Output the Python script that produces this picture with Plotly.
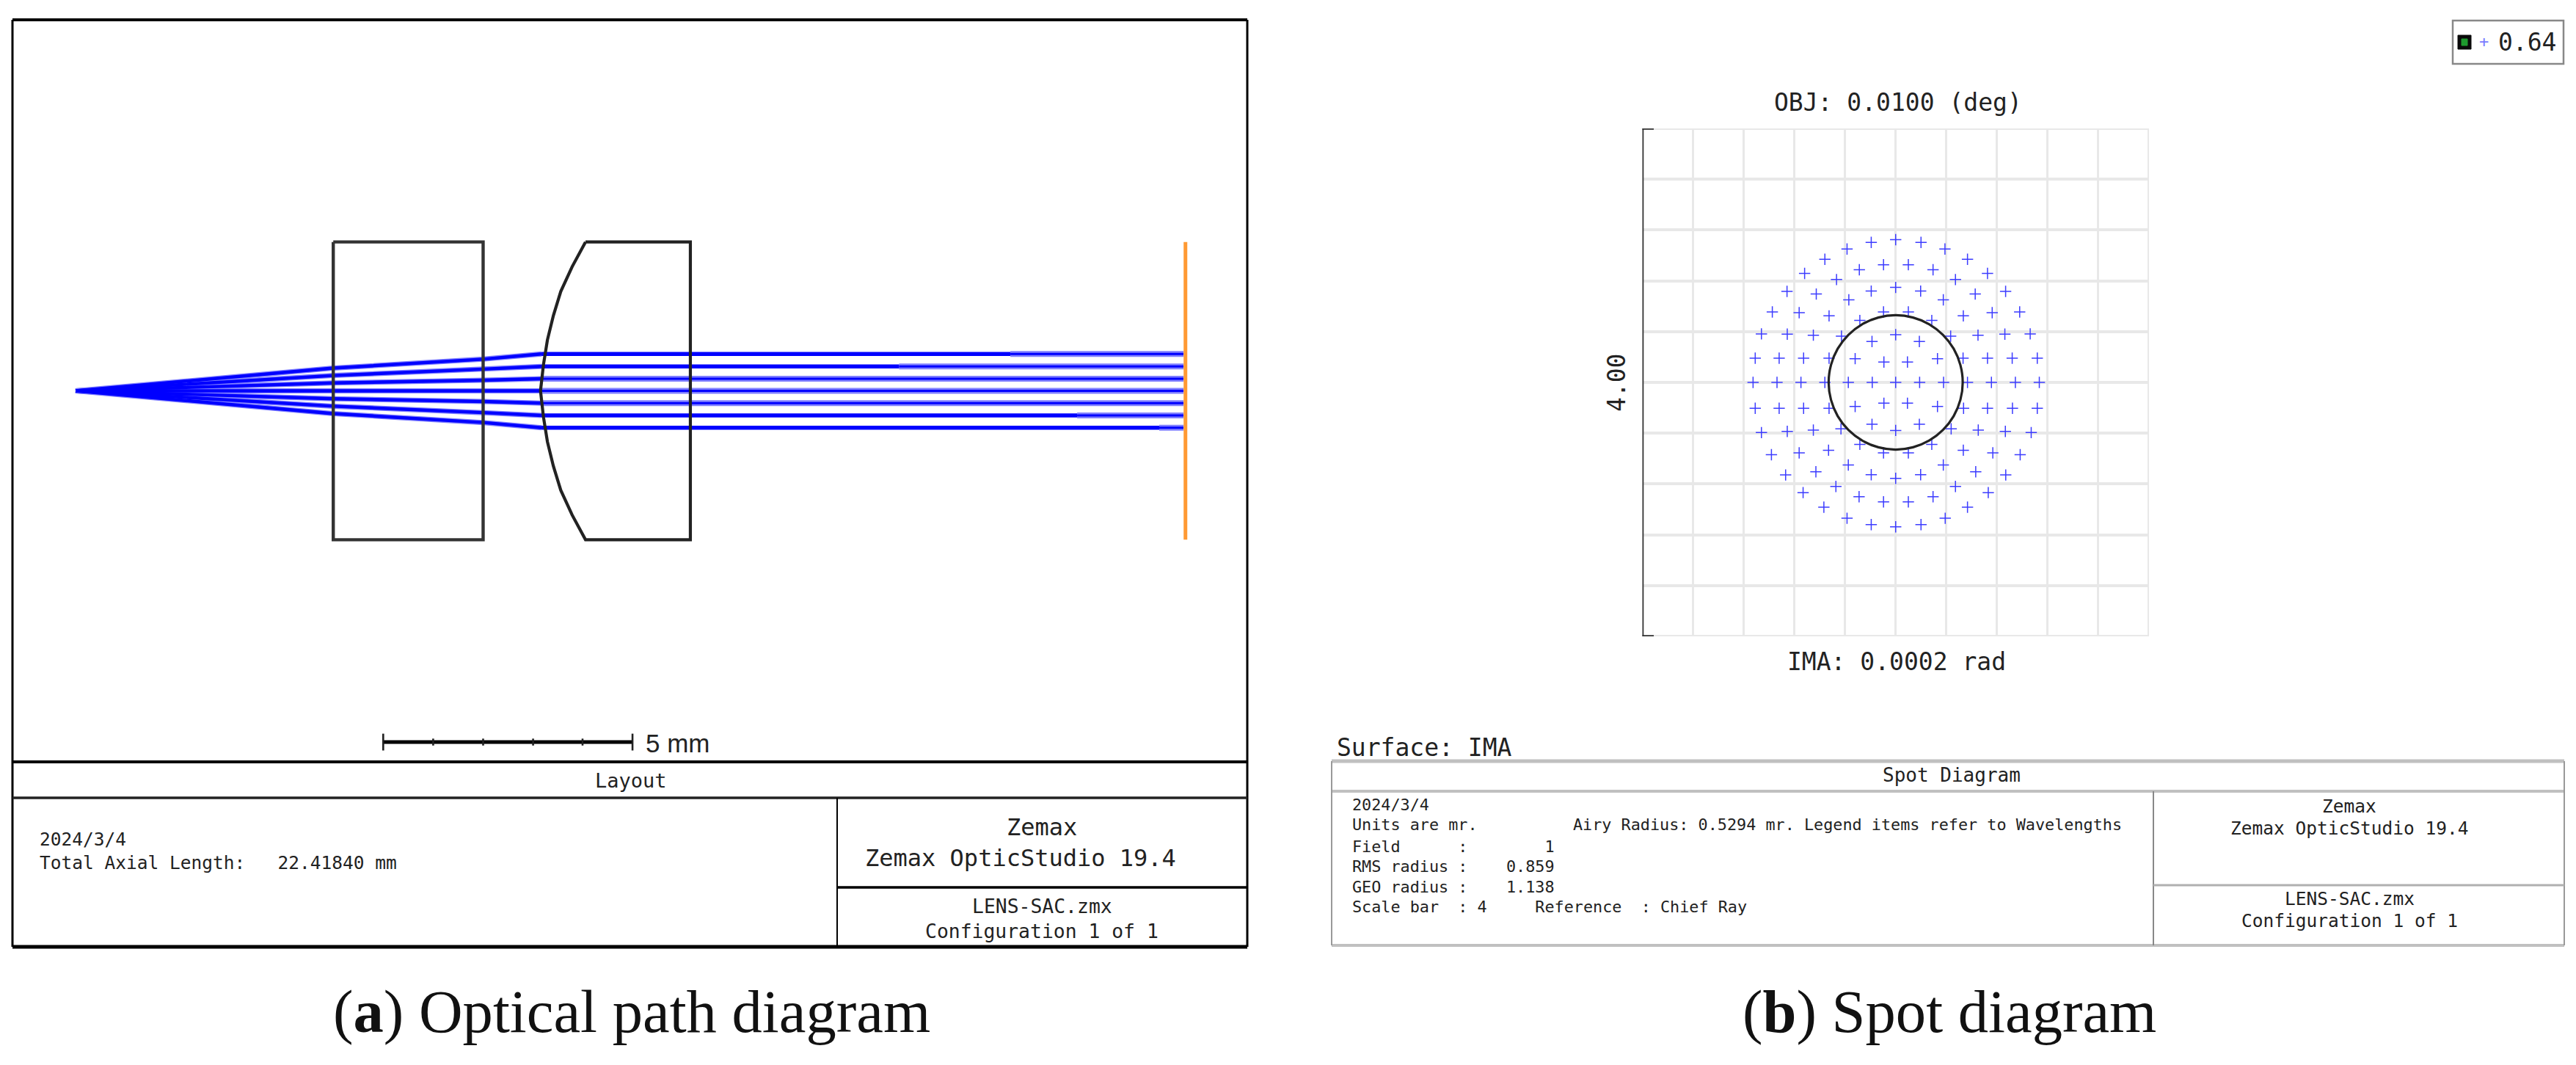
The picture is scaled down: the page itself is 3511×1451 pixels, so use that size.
#!/usr/bin/env python3
import plotly.graph_objects as go

W = 3511
H = 1451
MONO = "DejaVu Sans Mono"
# default page body margin pushes the plot by this many pixels
PAGE_INSET = 8

# --- layout panel, all in mm from the source point ---
LENS1_X = [5.21, 8.24, 8.24, 5.21, 5.21]
LENS1_Y = [3.01, 3.01, -3.01, -3.01, 3.01]
LENS2_X = [10.31, 10.04, 9.81, 9.66, 9.54, 9.46, 9.40, 9.46, 9.54, 9.66, 9.81, 10.04, 10.31, 12.43, 12.43, 10.31]
LENS2_Y = [3.01, 2.51, 2.01, 1.52, 1.03, 0.53, 0.0, -0.53, -1.03, -1.52, -2.01, -2.51, -3.01, -3.01, 3.01, 3.01]
IMAGE_X = [22.44, 22.44]
IMAGE_Y = [3.01, -3.01]

RAY_SURF_X = [0.0, 5.21, 8.24, 9.42, 22.40]
RAY_AT_L1F = [0.46, 0.31, 0.16, 0.0, -0.16, -0.31, -0.46]
RAY_AT_L1R = [0.64, 0.44, 0.215, 0.0, -0.215, -0.44, -0.64]
RAY_AT_L2F = [0.745, 0.493, 0.245, 0.0, -0.249, -0.497, -0.745]
RAY_SOFT_FROM = [18.90, 16.65, 9.42, 9.42, 9.42, 20.25, 21.91]

BAR_TICKS = [6.22, 7.23, 8.24, 9.25, 10.25, 11.26]

# --- spot panel, all in mr ---
SPOT_X = [
    0.0,
    -0.185, 0.189, -0.093, 0.093, -0.093, 0.093,
    -0.374, 0.378, -0.320, 0.330, -0.187, 0.187, 0.0, -0.320, 0.330, -0.187, 0.187, 0.0,
    -0.559, 0.567, -0.526, 0.532, -0.428, 0.434, -0.283, 0.285, -0.096, 0.100,
    -0.526, 0.536, -0.432, 0.438, -0.283, 0.285, -0.096, 0.100,
    -0.748, 0.756, -0.727, 0.725, -0.650, 0.650, -0.526, 0.534, -0.370, 0.376, -0.193, 0.197, 0.0,
    -0.727, 0.725, -0.650, 0.652, -0.530, 0.534, -0.374, 0.376, -0.193, 0.197, 0.0,
    -0.937, 0.945, -0.920, 0.920, -0.856, 0.862, -0.762, 0.762, -0.627, 0.628, -0.467, 0.472, -0.287, 0.295, -0.096, 0.100,
    -0.920, 0.922, -0.856, 0.866, -0.762, 0.767, -0.630, 0.632, -0.472, 0.472, -0.289, 0.295, -0.096, 0.100,
    -1.126, 1.134, -1.109, 1.118, -1.060, 1.062, -0.974, 0.979, -0.858, 0.868, -0.719, 0.725, -0.559, 0.567, -0.384, 0.389, -0.193, 0.200, 0.0,
    -1.109, 1.118, -1.060, 1.070, -0.981, 0.983, -0.869, 0.869, -0.731, 0.731, -0.567, 0.567, -0.384, 0.391, -0.193, 0.200, 0.0,
]
SPOT_Y = [
    0.0,
    0.0, 0.0, 0.160, 0.160, -0.164, -0.164,
    0.0, 0.0, 0.187, 0.187, 0.322, 0.322, 0.376, -0.189, -0.189, -0.330, -0.330, -0.378,
    0.0, 0.0, 0.191, 0.191, 0.364, 0.364, 0.488, 0.488, 0.555, 0.555,
    -0.204, -0.204, -0.366, -0.366, -0.488, -0.488, -0.555, -0.555,
    0.0, 0.0, 0.191, 0.191, 0.372, 0.372, 0.524, 0.524, 0.650, 0.650, 0.719, 0.719, 0.748,
    -0.204, -0.204, -0.376, -0.376, -0.534, -0.534, -0.650, -0.650, -0.727, -0.727, -0.756,
    0.0, 0.0, 0.191, 0.191, 0.380, 0.380, 0.549, 0.549, 0.696, 0.696, 0.810, 0.810, 0.887, 0.887, 0.927, 0.927,
    -0.204, -0.204, -0.386, -0.386, -0.555, -0.555, -0.704, -0.704, -0.819, -0.819, -0.900, -0.900, -0.941, -0.941,
    0.0, 0.0, 0.191, 0.191, 0.382, 0.382, 0.555, 0.555, 0.717, 0.717, 0.858, 0.858, 0.970, 0.970, 1.051, 1.051, 1.103, 1.103, 1.124,
    -0.204, -0.204, -0.395, -0.395, -0.569, -0.569, -0.729, -0.729, -0.868, -0.868, -0.983, -0.983, -1.070, -1.070, -1.120, -1.120, -1.137,
]
AIRY_X = [0.0, 0.137, 0.265, 0.374, 0.458, 0.511, 0.5294, 0.511, 0.458, 0.374, 0.265, 0.137, 0.0,
          -0.137, -0.265, -0.374, -0.458, -0.511, -0.5294, -0.511, -0.458, -0.374, -0.265, -0.137, 0.0]
AIRY_Y = [0.5294, 0.511, 0.458, 0.374, 0.265, 0.137, 0.0, -0.137, -0.265, -0.374, -0.458, -0.511, -0.5294,
          -0.511, -0.458, -0.374, -0.265, -0.137, 0.0, 0.137, 0.265, 0.374, 0.458, 0.511, 0.5294]
SCALE_BAR = [-2.0, 2.0]


def px(x):
    return (x - PAGE_INSET) / W


def py(y):
    return 1.0 - (y - PAGE_INSET) / H


def add_rule(fig, x0, y0, x1, y1, color="#000000", width=3.0):
    fig.add_shape(
        type="line", xref="paper", yref="paper",
        x0=px(x0), y0=py(y0), x1=px(x1), y1=py(y1),
        line={"color": color, "width": width},
    )


def add_box(fig, x0, y0, x1, y1, fill, line_color, line_width):
    fig.add_shape(
        type="rect", xref="paper", yref="paper",
        x0=px(x0), x1=px(x1), y0=py(y1), y1=py(y0),
        line={"color": line_color, "width": line_width}, fillcolor=fill,
    )


def add_label(fig, x, y, text, size, anchor="left", font=MONO, color="#222222", angle=0):
    fig.add_annotation(
        x=px(x), y=py(y), xref="paper", yref="paper",
        text=text, showarrow=False, textangle=angle,
        xanchor=anchor, yanchor="middle",
        font={"family": font, "size": size, "color": color},
    )


def add_line(fig, x, y, color, width, axes="xy", cliponaxis=True):
    fig.add_trace(
        go.Scatter(
            x=x, y=y, xaxis="x" if axes == "xy" else "x2", yaxis="y" if axes == "xy" else "y2",
            mode="lines", line={"color": color, "width": width},
            hoverinfo="skip", showlegend=False, cliponaxis=cliponaxis,
        )
    )


fig = go.Figure()

# rays: all the lighter halos first, so no halo lands on a solid core
for i in range(len(RAY_AT_L2F)):
    ys = [0.0, RAY_AT_L1F[i], RAY_AT_L1R[i], RAY_AT_L2F[i]]
    add_line(fig, RAY_SURF_X[:4], ys, "#8080FF", 7.0)
    add_line(fig, [RAY_SOFT_FROM[i], RAY_SURF_X[4]], [RAY_AT_L2F[i], RAY_AT_L2F[i]], "#8080FF", 8.0)
for i in range(len(RAY_AT_L2F)):
    ys = [0.0, RAY_AT_L1F[i], RAY_AT_L1R[i], RAY_AT_L2F[i]]
    soft = RAY_SOFT_FROM[i]
    level = RAY_AT_L2F[i]
    add_line(fig, RAY_SURF_X[:4], ys, "#0000FF", 4.4)
    add_line(fig, [soft, RAY_SURF_X[4]], [level, level], "#0000FF", 3.0)
    if soft > RAY_SURF_X[3]:
        add_line(fig, [RAY_SURF_X[3], soft], [level, level], "#0000FF", 5.5)

add_line(fig, LENS1_X, LENS1_Y, "#333333", 4.4)
add_line(fig, LENS2_X, LENS2_Y, "#222222", 4.2)
add_line(fig, IMAGE_X, IMAGE_Y, "#FF9A33", 5.0)

# 5 mm scale bar
add_line(fig, [BAR_TICKS[0], BAR_TICKS[-1]], [-7.1, -7.1], "#000000", 5.0)
for i, t in enumerate(BAR_TICKS):
    half = 0.17 if i in (0, len(BAR_TICKS) - 1) else 0.07
    add_line(fig, [t, t], [-7.1 - half, -7.1 + half], "#222222", 2.6)

# grid lines at the box edges, plotly leaves them out
add_line(fig, [-2, 2], [2, 2], "#E8E8E8", 4.0, axes="x2y2", cliponaxis=False)
add_line(fig, [-2, 2], [-2, -2], "#E8E8E8", 4.0, axes="x2y2", cliponaxis=False)
add_line(fig, [2, 2], [-2, 2], "#E8E8E8", 4.0, axes="x2y2", cliponaxis=False)

# spot diagram
fig.add_trace(
    go.Scatter(
        x=SPOT_X, y=SPOT_Y, xaxis="x2", yaxis="y2", mode="markers",
        marker={"symbol": "cross-thin", "size": 11, "line": {"color": "#3C3CFF", "width": 1.5}},
        hoverinfo="skip", showlegend=False,
    )
)
add_line(fig, AIRY_X, AIRY_Y, "#222222", 3.2, axes="x2y2")
fig.data[-1].line.shape = "spline"
add_line(fig, [-2.0, -2.0], SCALE_BAR, "#333333", 3.6, axes="x2y2", cliponaxis=False)
for end in SCALE_BAR:
    add_line(fig, [-2.09, -1.91], [end, end], "#333333", 3.6, axes="x2y2", cliponaxis=False)

fig.update_layout(
    width=W,
    height=H,
    margin={"l": 0, "r": 0, "t": 0, "b": 0},
    paper_bgcolor="#FFFFFF",
    plot_bgcolor="#FFFFFF",
    showlegend=False,
    xaxis={"domain": [px(17), px(1700)], "range": [-1.276, 23.69], "visible": False},
    yaxis={"domain": [py(1038), py(27)], "range": [-7.5, 7.5], "visible": False},
    xaxis2={
        "domain": [px(2238.5), px(2929)], "range": [-2, 2], "anchor": "y2",
        "tick0": -2, "dtick": 0.4, "showgrid": True, "gridcolor": "#E8E8E8", "gridwidth": 3.4,
        "zeroline": False, "showticklabels": False, "ticks": "",
    },
    yaxis2={
        "domain": [py(867), py(175)], "range": [-2, 2], "anchor": "x2",
        "tick0": -2, "dtick": 0.4, "showgrid": True, "gridcolor": "#E8E8E8", "gridwidth": 4.0,
        "zeroline": False, "showticklabels": False, "ticks": "",
    },
)

# left title block
add_rule(fig, 17, 27, 1700, 27, width=4)
add_rule(fig, 17, 27, 17, 1290, width=3)
add_rule(fig, 1700, 27, 1700, 1290, width=3)
add_rule(fig, 17, 1038, 1700, 1038, width=4)
add_rule(fig, 17, 1087, 1700, 1087, color="#222222", width=3.5)
add_rule(fig, 17, 1290, 1700, 1290, width=5)
add_rule(fig, 1141, 1087, 1141, 1290, width=2)
add_rule(fig, 1141, 1209, 1700, 1209, width=3.5)

add_label(fig, 924, 1012, "5 mm", 35, font="Liberation Sans", anchor="center")
add_label(fig, 860, 1063, "Layout", 27, anchor="center")
add_label(fig, 52, 1143, "2024/3/4", 24.5)
add_label(fig, 52, 1175, "Total Axial Length:   22.41840 mm", 24.5)
add_label(fig, 1420, 1127, "Zemax", 32, anchor="center")
add_label(fig, 1391, 1169, "Zemax OpticStudio 19.4", 32, anchor="center")
add_label(fig, 1420, 1234, "LENS-SAC.zmx", 26.4, anchor="center")
add_label(fig, 1420, 1268, "Configuration 1 of 1", 26.4, anchor="center")

# right title block
add_rule(fig, 1815, 1037, 3495, 1037, color="#C0C0C0", width=5)
add_rule(fig, 1815, 1078, 3495, 1078, color="#C0C0C0", width=4)
add_rule(fig, 1815, 1288, 3495, 1288, color="#C0C0C0", width=4)
add_rule(fig, 1815, 1037, 1815, 1288, color="#999999", width=2)
add_rule(fig, 3495, 1037, 3495, 1288, color="#999999", width=2)
add_rule(fig, 2935, 1078, 2935, 1288, color="#888888", width=2)
add_rule(fig, 2935, 1206, 3495, 1206, color="#B0B0B0", width=3)

add_label(fig, 1820, 1018, "Surface: IMA", 33)
add_label(fig, 2660, 1056, "Spot Diagram", 26, anchor="center")
add_label(fig, 1841, 1096, "2024/3/4", 21.8)
add_label(fig, 1841, 1123, "Units are mr.", 21.8)
add_label(fig, 2142, 1123, "Airy Radius: 0.5294 mr. Legend items refer to Wavelengths", 21.8)
add_label(fig, 1841, 1153, "Field      :        1", 21.8)
add_label(fig, 1841, 1180, "RMS radius :    0.859", 21.8)
add_label(fig, 1841, 1208, "GEO radius :    1.138", 21.8)
add_label(fig, 1841, 1235, "Scale bar  : 4     Reference  : Chief Ray", 21.8)
add_label(fig, 3202, 1098, "Zemax", 24.5, anchor="center")
add_label(fig, 3202, 1128, "Zemax OpticStudio 19.4", 24.5, anchor="center")
add_label(fig, 3202, 1224, "LENS-SAC.zmx", 24.5, anchor="center")
add_label(fig, 3202, 1254, "Configuration 1 of 1", 24.5, anchor="center")

# spot panel labels
add_label(fig, 2587, 140, "OBJ: 0.0100 (deg)", 33, anchor="center")
add_label(fig, 2585, 902, "IMA: 0.0002 rad", 33, anchor="center")
add_label(fig, 2203, 522, "4.00", 33, anchor="center", angle=-90)

# wavelength legend box
add_box(fig, 3343, 28, 3494, 87, "#FFFFFF", "#888888", 2.5)
add_box(fig, 3350, 48, 3368, 67, "#0A0A0A", "#0A0A0A", 1)
add_box(fig, 3355, 53, 3363, 62, "#1E9A2E", "#1E9A2E", 1)
add_label(fig, 3385, 56, "+", 22, anchor="center", color="#7A7AFF")
add_label(fig, 3403, 57, "0.64", 33)

# captions
add_label(fig, 861, 1378, "(<b>a</b>) Optical path diagram", 82.6, anchor="center", font="Liberation Serif", color="#111111")
add_label(fig, 2657, 1378, "(<b>b</b>) Spot diagram", 82.6, anchor="center", font="Liberation Serif", color="#111111")

fig.write_html("out.html")
